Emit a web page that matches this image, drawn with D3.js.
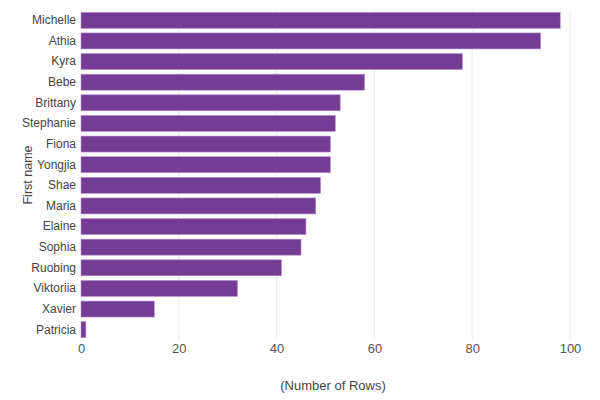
<!DOCTYPE html>
<html><head><meta charset="utf-8">
<script src="https://cdn.jsdelivr.net/npm/d3@7"></script>
<style>
html,body{margin:0;padding:0;background:#fff;}
svg text{font-family:"Liberation Sans",Arial,Helvetica,sans-serif;}
</style></head>
<body><svg id="chart" width="600" height="400"></svg>
<script>
const names = ["Michelle","Athia","Kyra","Bebe","Brittany","Stephanie","Fiona","Yongjia","Shae","Maria","Elaine","Sophia","Ruobing","Viktoriia","Xavier","Patricia"];
const rowCounts = [98,94,78,58,53,52,51,51,49,48,46,45,41,32,15,1];
const xTicks = [0,20,40,60,80,100];
const xTitle = "(Number of Rows)";
const yTitle = "First name";

(function(){
const svg = d3.select("#chart");
const mLeft = 81, mTop = 10, mBottom = 340;
const x = d3.scaleLinear().domain([0,100]).range([mLeft, mLeft + 489]);
const y = d3.scaleBand().domain(names).range([mTop, mBottom]).paddingInner(0.225).paddingOuter(0.1125);

// gridlines
svg.append("g").selectAll("line").data(xTicks.slice(1)).join("line")
  .attr("x1", d => x(d)).attr("x2", d => x(d))
  .attr("y1", mTop).attr("y2", mBottom)
  .attr("stroke", "#ececec").attr("stroke-width", 1);

// bars
svg.append("g").selectAll("rect").data(names).join("rect")
  .attr("x", x(0))
  .attr("y", d => y(d))
  .attr("width", (d,i) => x(rowCounts[i]) - x(0))
  .attr("height", y.bandwidth())
  .attr("fill", "#753c96")
  .attr("stroke", "#b58fcb").attr("stroke-width", 0.6);

// y axis labels
const yAxis = d3.axisLeft(y).tickSize(0).tickPadding(5);
const gy = svg.append("g").attr("transform", `translate(${mLeft},0)`).call(yAxis);
gy.select(".domain").remove();
gy.selectAll("text").attr("font-size", 12).attr("fill", "#444")
  .attr("font-family", "'Liberation Sans',Arial,sans-serif");

// x axis
const xAxis = d3.axisBottom(x).tickValues(xTicks).tickSize(0).tickPadding(4);
const gx = svg.append("g").attr("transform", `translate(0,${mBottom})`).call(xAxis);
gx.select(".domain").remove();
gx.selectAll("text").attr("font-size", 13).attr("fill", "#555")
  .attr("font-family", "'Liberation Sans',Arial,sans-serif");

// titles
svg.append("text").attr("x", 333).attr("y", 389.5).attr("text-anchor", "middle")
  .attr("font-size", 13).attr("fill", "#444").text(xTitle);
svg.append("text").attr("transform", "translate(32,175) rotate(-90)")
  .attr("text-anchor", "middle").attr("font-size", 12.5).attr("fill", "#444").text(yTitle);
})();
</script>
</body></html>
